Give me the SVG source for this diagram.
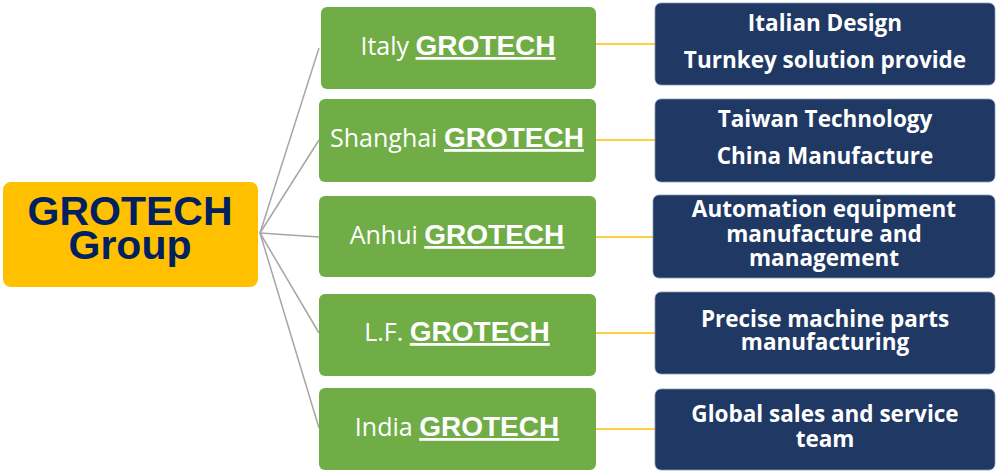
<svg xmlns="http://www.w3.org/2000/svg" width="1000" height="474" viewBox="0 0 1000 474">
<style>
.root{fill:#FFC000}
.green{fill:#70AD47}
.blue{fill:#203864;stroke:#8497B0;stroke-width:0.8}
.gline{stroke:#A6A6A6;stroke-width:1.5;fill:none}
.yline{stroke:#FFC000;stroke-width:1.5;fill:none}
.rt{font-family:"Liberation Sans",Arial,sans-serif;font-weight:bold;font-size:41px;fill:#002060;text-anchor:middle}
.gt{font-family:"Open Sans","Noto Sans",sans-serif;font-size:25px;fill:#fff;text-anchor:middle}
.gb{font-family:"Liberation Sans",Arial,sans-serif;font-weight:bold;font-size:28px;text-decoration:underline}
.bt{font-family:"Open Sans","Noto Sans",sans-serif;font-weight:bold;font-size:22.5px;fill:#fff;text-anchor:middle}
</style>
<g id="connectors">
<path class="gline" d="M260 233 L319 48"/>
<path class="gline" d="M260 233 L319 140"/>
<path class="gline" d="M260 233 L319 237"/>
<path class="gline" d="M260 233 L319 333"/>
<path class="gline" d="M260 233 L319 428"/>
<path class="yline" d="M596 44 L655 44"/>
<path class="yline" d="M596 140 L655 140"/>
<path class="yline" d="M596 237 L653 237"/>
<path class="yline" d="M596 333 L655 333"/>
<path class="yline" d="M596 429 L655 429"/>
</g>
<g id="root">
<rect class="root" x="3" y="182" width="255" height="105" rx="8"/>
<text class="rt" x="130" y="225">GROTECH</text>
<text class="rt" x="130" y="259">Group</text>
</g>
<g id="italy">
<rect class="green" x="321" y="7" width="275" height="82" rx="6"/>
<text class="gt" x="458" y="55">Italy <tspan class="gb">GROTECH</tspan></text>
</g>
<g id="shanghai">
<rect class="green" x="319" y="99" width="277" height="83" rx="6"/>
<text class="gt" x="457" y="147">Shanghai <tspan class="gb">GROTECH</tspan></text>
</g>
<g id="anhui">
<rect class="green" x="319" y="196" width="277" height="81" rx="6"/>
<text class="gt" x="457" y="244">Anhui <tspan class="gb">GROTECH</tspan></text>
</g>
<g id="lf">
<rect class="green" x="319" y="294" width="277" height="82" rx="6"/>
<text class="gt" x="457" y="341">L.F. <tspan class="gb">GROTECH</tspan></text>
</g>
<g id="india">
<rect class="green" x="319" y="388" width="277" height="82" rx="6"/>
<text class="gt" x="457" y="436">India <tspan class="gb">GROTECH</tspan></text>
</g>
<g id="italy-desc">
<rect class="blue" x="655" y="3" width="340" height="82" rx="6"/>
<text class="bt" x="825" y="31">Italian Design</text>
<text class="bt" x="825" y="68">Turnkey solution provide</text>
</g>
<g id="shanghai-desc">
<rect class="blue" x="655" y="99" width="340" height="83" rx="6"/>
<text class="bt" x="825" y="127">Taiwan Technology</text>
<text class="bt" x="825" y="164">China Manufacture</text>
</g>
<g id="anhui-desc">
<rect class="blue" x="653" y="195" width="342" height="83" rx="6"/>
<text class="bt" x="824" y="217">Automation equipment</text>
<text class="bt" x="824" y="242">manufacture and</text>
<text class="bt" x="824" y="266">management</text>
</g>
<g id="lf-desc">
<rect class="blue" x="655" y="292" width="340" height="82" rx="6"/>
<text class="bt" x="825" y="327">Precise machine parts</text>
<text class="bt" x="825" y="350">manufacturing</text>
</g>
<g id="india-desc">
<rect class="blue" x="655" y="389" width="340" height="81" rx="6"/>
<text class="bt" x="825" y="422">Global sales and service</text>
<text class="bt" x="825" y="447">team</text>
</g>
</svg>
